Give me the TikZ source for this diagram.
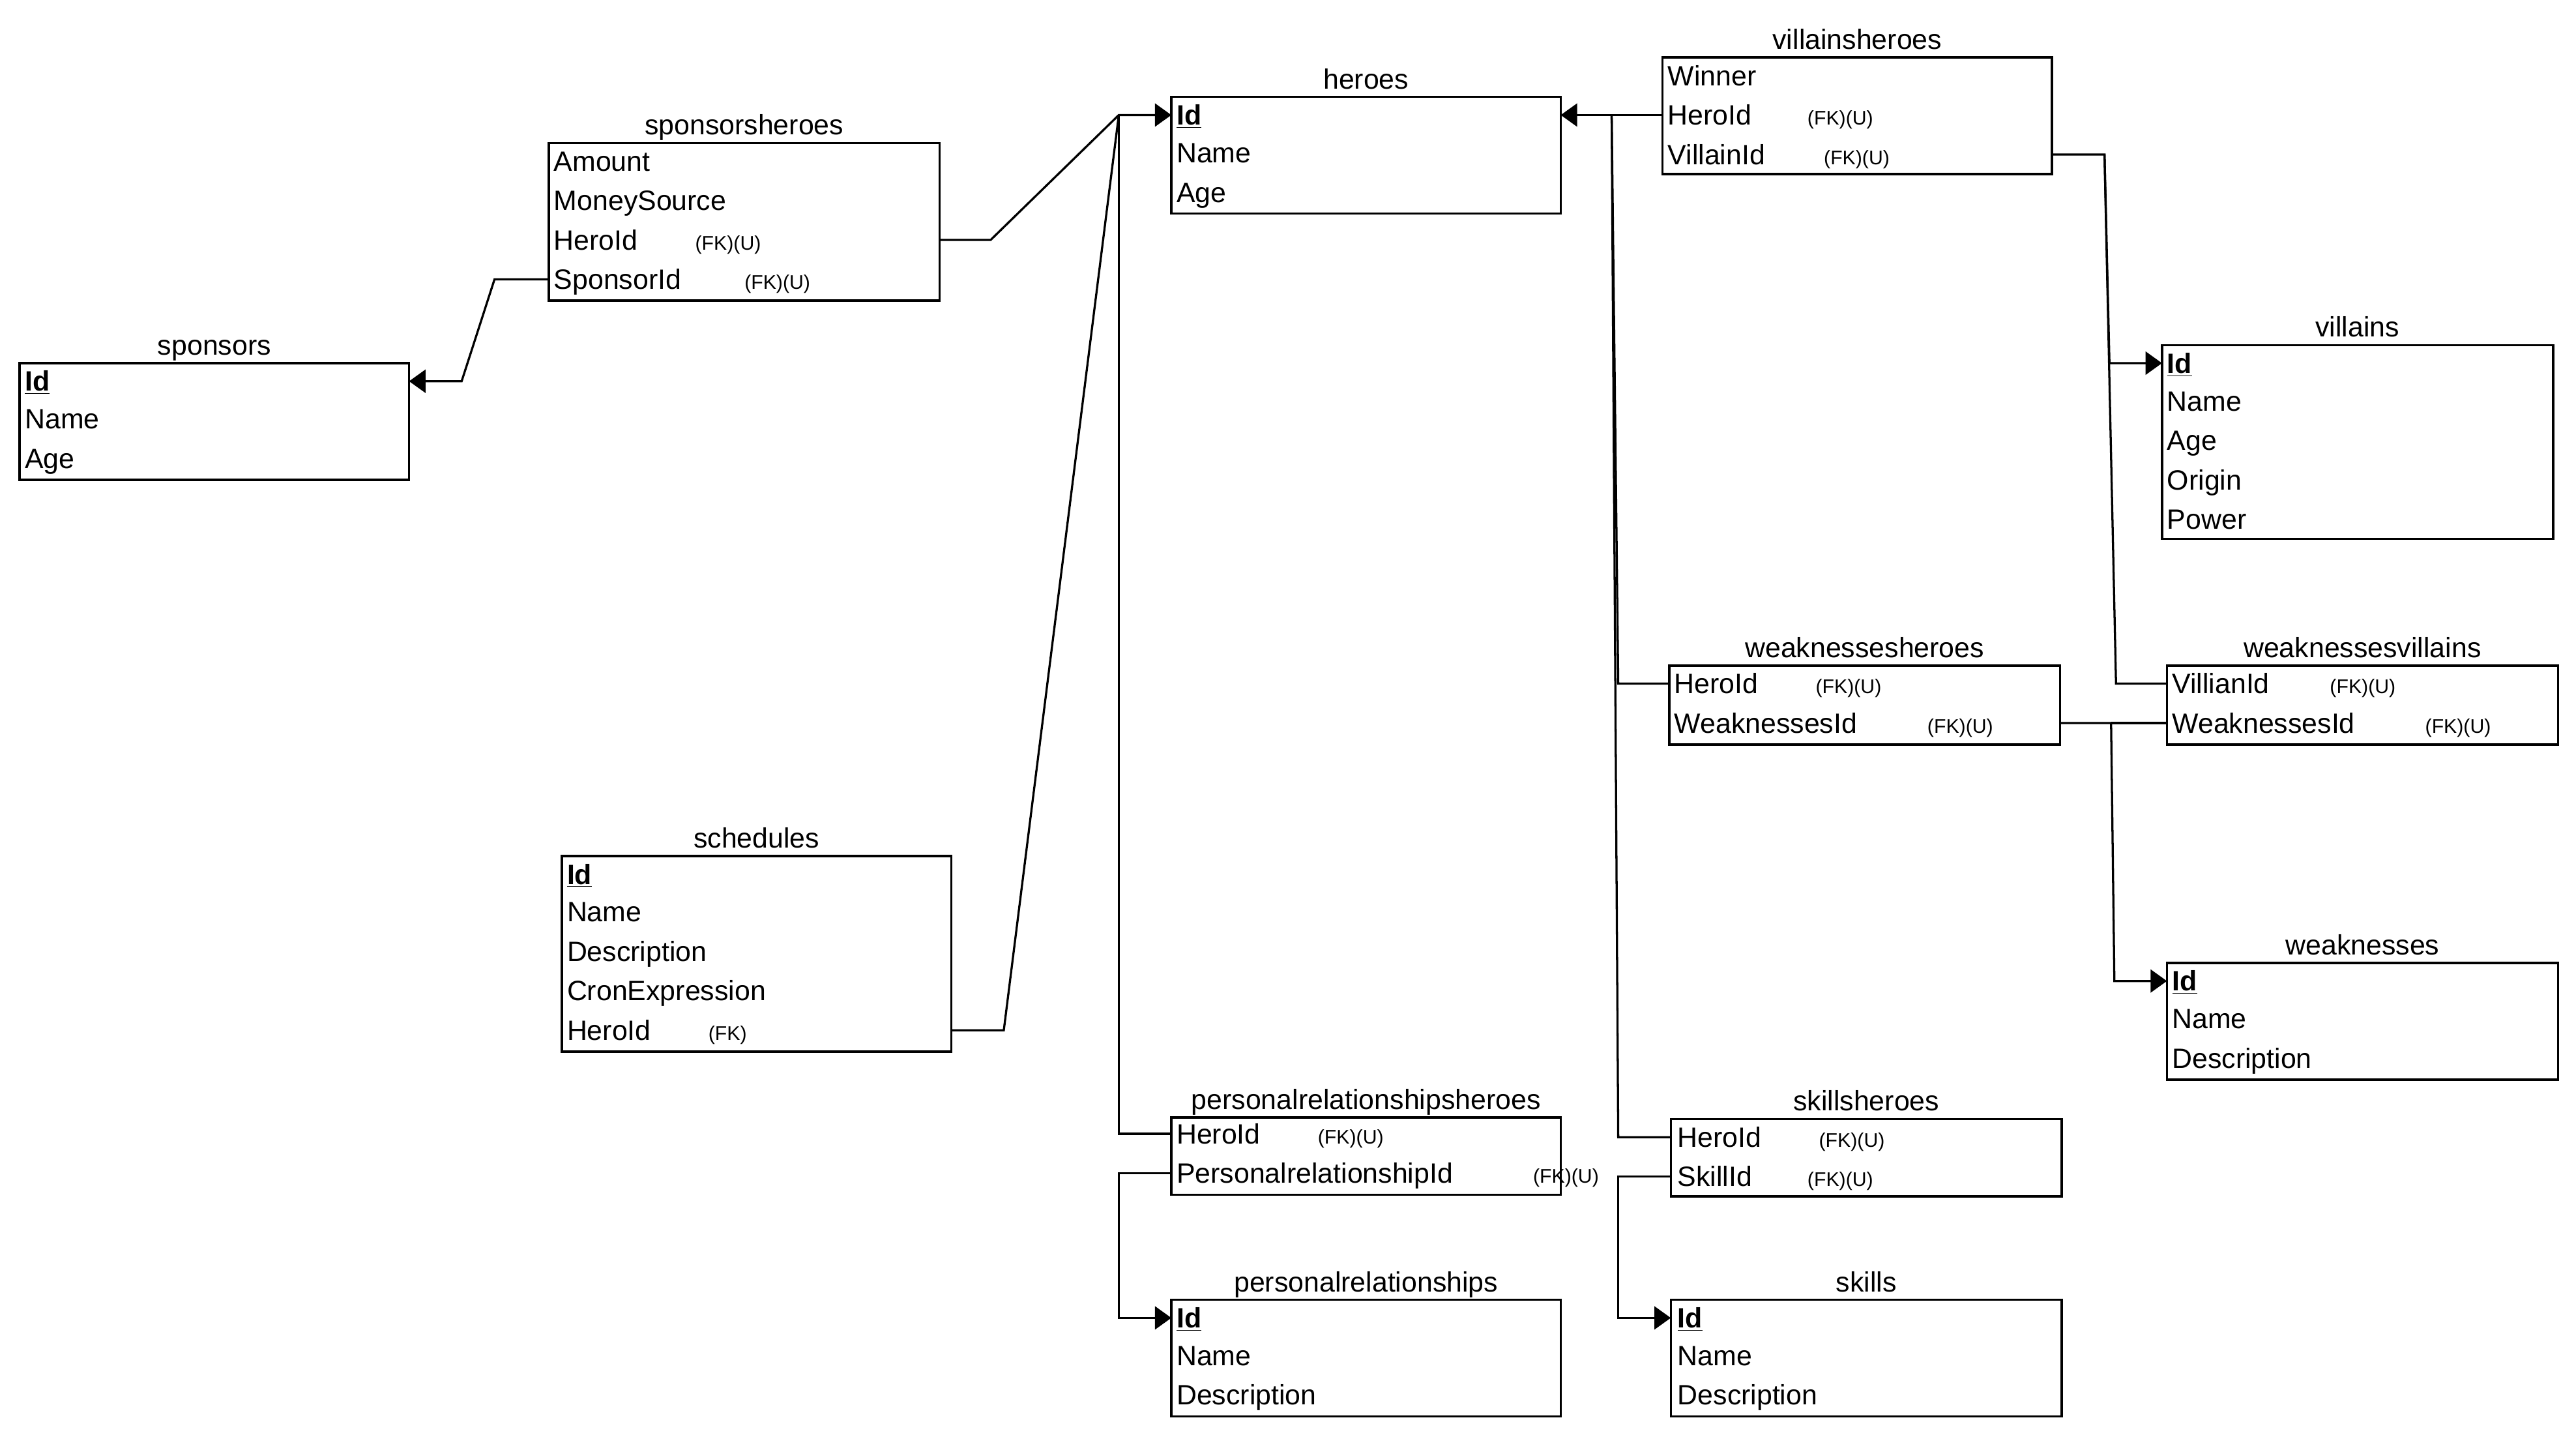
\documentclass[tikz,border=0pt]{standalone}
\usepackage{fontspec}
\setmainfont{Liberation Sans}
\usetikzlibrary{arrows.meta}
\begin{document}
\begin{tikzpicture}[x=1pt,y=-1pt,
  box/.style={draw,line width=1.4pt},
  ttl/.style={font=\fontsize{17}{20}\selectfont,anchor=base,inner sep=0},
  row/.style={font=\fontsize{17}{20}\selectfont,anchor=base west,inner sep=0},
  pk/.style={row,font=\fontsize{17}{20}\selectfont\bfseries},
  fk/.style={font=\fontsize{12}{14}\selectfont,anchor=base west,inner sep=0},
  con/.style={line width=1.3pt},
  arr/.style={con,-{Triangle[length=10pt,width=14pt]}}]
\useasboundingbox (0,0) rectangle (1568,873);
% boxes: name, x1,y1,x2,y2
\newcommand\tbl[6]{\draw[box] (#2,#3) rectangle (#4,#5); \node[ttl] (#1-t) at ({(#2+#4)/2},{#3-5}) {#6}; \coordinate (#1) at (#2,#3);}
\newcommand\rw[4]{\node[row] (#1) at (#2,{#3+6}) {#4};}
\newcommand\pkr[4]{\node[pk] (#1) at (#2,{#3+6}) {\underline{#4}};}
\newcommand\fkl[3]{\node[fk] at (#1,{#2+6}) {#3};}

\tbl{sh}{334}{87}{572}{183}{sponsorsheroes}
\rw{sh1}{337}{98}{Amount}\rw{sh2}{337}{122}{MoneySource}\rw{sh3}{337}{146}{HeroId}\rw{sh4}{337}{170}{SponsorId}
\fkl{423}{146}{(FK)(U)}\fkl{453}{170}{(FK)(U)}

\tbl{sp}{12}{221}{249}{292}{sponsors}
\pkr{sp1}{15}{232}{Id}\rw{sp2}{15}{255}{Name}\rw{sp3}{15}{279}{Age}

\tbl{he}{713}{59}{950}{130}{heroes}
\pkr{he1}{716}{70}{Id}\rw{he2}{716}{93}{Name}\rw{he3}{716}{117}{Age}

\tbl{vh}{1012}{35}{1249}{106}{villainsheroes}
\rw{vh1}{1015}{46}{Winner}\rw{vh2}{1015}{70}{HeroId}\rw{vh3}{1015}{94}{VillainId}
\fkl{1100}{70}{(FK)(U)}\fkl{1110}{94}{(FK)(U)}

\tbl{vi}{1316}{210}{1554}{328}{villains}
\pkr{vi1}{1319}{221}{Id}\rw{vi2}{1319}{244}{Name}\rw{vi3}{1319}{268}{Age}\rw{vi4}{1319}{292}{Origin}\rw{vi5}{1319}{316}{Power}

\tbl{wh}{1016}{405}{1254}{453}{weaknessesheroes}
\rw{wh1}{1019}{416}{HeroId}\rw{wh2}{1019}{440}{WeaknessesId}
\fkl{1105}{416}{(FK)(U)}\fkl{1173}{440}{(FK)(U)}

\tbl{wv}{1319}{405}{1557}{453}{weaknessesvillains}
\rw{wv1}{1322}{416}{VillianId}\rw{wv2}{1322}{440}{WeaknessesId}
\fkl{1418}{416}{(FK)(U)}\fkl{1476}{440}{(FK)(U)}

\tbl{we}{1319}{586}{1557}{657}{weaknesses}
\pkr{we1}{1322}{597}{Id}\rw{we2}{1322}{620}{Name}\rw{we3}{1322}{644}{Description}

\tbl{sc}{342}{521}{579}{640}{schedules}
\pkr{sc1}{345}{532}{Id}\rw{sc2}{345}{555}{Name}\rw{sc3}{345}{579}{Description}\rw{sc4}{345}{603}{CronExpression}\rw{sc5}{345}{627}{HeroId}
\fkl{431}{627}{(FK)}

\tbl{ph}{713}{680}{950}{727}{personalrelationshipsheroes}
\rw{ph1}{716}{690}{HeroId}\rw{ph2}{716}{714}{PersonalrelationshipId}
\fkl{802}{690}{(FK)(U)}\fkl{933}{714}{(FK)(U)}

\tbl{pr}{713}{791}{950}{862}{personalrelationships}
\pkr{pr1}{716}{802}{Id}\rw{pr2}{716}{825}{Name}\rw{pr3}{716}{849}{Description}

\tbl{ks}{1017}{681}{1255}{728}{skillsheroes}
\rw{ks1}{1021}{692}{HeroId}\rw{ks2}{1021}{716}{SkillId}
\fkl{1107}{692}{(FK)(U)}\fkl{1100}{716}{(FK)(U)}

\tbl{sk}{1017}{791}{1255}{862}{skills}
\pkr{sk1}{1021}{802}{Id}\rw{sk2}{1021}{825}{Name}\rw{sk3}{1021}{849}{Description}

% connectors
\coordinate (HJ) at (681,70);
\coordinate (VJ) at (981,70);
\draw[arr] (334,170) -- (301,170) -- (281,232) -- (249,232);
\draw[arr] (572,146) -- (603,146) -- (HJ) -- (713,70);
\draw[con] (579,627) -- (611,627) -- (HJ);
\draw[con] (713,690) -- (681,690) -- (HJ);
\draw[arr] (1012,70) -- (950,70);
\draw[con] (1016,416) -- (985,416) -- (VJ);
\draw[con] (1017,692) -- (985,692) -- (VJ);
\draw[arr] (1249,94) -- (1281,94) -- (1284,221) -- (1316,221);
\draw[con] (1319,416) -- (1288,416) -- (1281,94);
\draw[arr] (1254,440) -- (1285,440) -- (1287,597) -- (1319,597);
\draw[con] (1319,440) -- (1285,440);
\draw[arr] (713,714) -- (681,714) -- (681,802) -- (713,802);
\draw[arr] (1017,716) -- (985,716) -- (985,802) -- (1017,802);
\end{tikzpicture}
\end{document}
